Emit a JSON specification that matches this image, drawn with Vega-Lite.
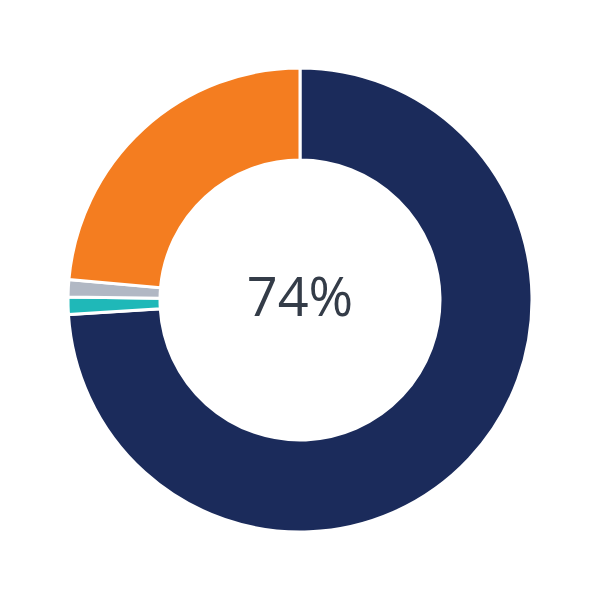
{
  "$schema": "https://vega.github.io/schema/vega-lite/v6.json",
  "autosize": {"type": "fit", "contains": "padding"},
  "width": 600,
  "height": 600,
  "background": "white",
  "view": {"stroke": null},
  "data": {"values": [
    {"segment": "A", "order": 1, "share": 74.0},
    {"segment": "B", "order": 2, "share": 1.2},
    {"segment": "C", "order": 3, "share": 1.2},
    {"segment": "D", "order": 4, "share": 23.6}
  ]},
  "layer": [{
    "mark": {"type": "arc", "outerRadius": 232, "innerRadius": 140, "stroke": "white", "strokeWidth": 3},
    "encoding": {
      "theta": {"field": "share", "type": "quantitative", "stack": true},
      "order": {"field": "order", "type": "quantitative"},
      "color": {
        "field": "segment",
        "type": "nominal",
        "scale": {"domain": ["A", "B", "C", "D"], "range": ["#1b2b5b", "#1fb8b8", "#b1b8c4", "#f47d20"]},
        "legend": null
      }
    }
  }, {
    "transform": [{"filter": "datum.order == 1"}],
    "mark": {"type": "text", "font": "Open Sans", "fontWeight": 400, "fontSize": 54, "color": "#343c48", "align": "center", "baseline": "middle", "dy": 0},
    "encoding": {
      "text": {"value": "74%"}
    }
  }]
}
